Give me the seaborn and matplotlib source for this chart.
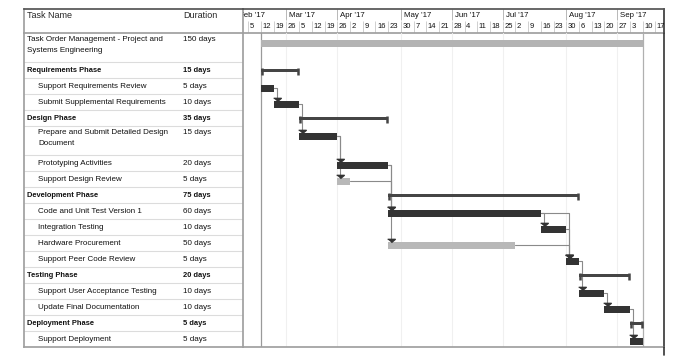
import numpy as np
import pandas as pd
import matplotlib
matplotlib.use("Agg")
import matplotlib.pyplot as plt
import matplotlib.dates as mdates
from matplotlib.lines import Line2D
import seaborn as sns

# ---------------------------------------------------------------- data
tasks = [
    "Task Order Management - Project and\nSystems Engineering",
    "Requirements Phase",
    "Support Requirements Review",
    "Submit Supplemental Requirements",
    "Design Phase",
    "Prepare and Submit Detailed Design\nDocument",
    "Prototyping Activities",
    "Support Design Review",
    "Development Phase",
    "Code and Unit Test Version 1",
    "Integration Testing",
    "Hardware Procurement",
    "Support Peer Code Review",
    "Testing Phase",
    "Support User Acceptance Testing",
    "Update Final Documentation",
    "Deployment Phase",
    "Support Deployment",
]
durations = [150, 15, 5, 10, 35, 15, 20, 5, 75, 60, 10, 50, 5, 20, 10, 10, 5, 5]   # working days
starts = [0, 0, 0, 5, 15, 15, 30, 30, 50, 50, 110, 50, 120, 125, 125, 135, 145, 145]  # working-day offset
kinds = ["project", "phase", "critical", "critical", "phase", "critical", "critical", "task",
         "phase", "critical", "critical", "task", "critical", "phase", "critical", "critical",
         "phase", "critical"]
links = [(2, 3), (3, 5), (5, 6), (5, 7), (6, 9), (6, 11), (7, 9), (9, 10), (9, 12),
         (10, 12), (11, 12), (12, 14), (14, 15), (15, 17)]
project_start = "2017-02-12"
months = pd.date_range("2017-02-01", "2017-09-01", freq="MS")
weeks = pd.date_range("2017-02-05", "2017-09-17", freq="W-SUN")

# ---------------------------------------------------------------- style
sns.set_theme(style="white")
plt.rcParams["font.family"] = ["Liberation Sans", "DejaVu Sans"]

W, H = 673, 362
fig = plt.figure(figsize=(W / 100, H / 100), dpi=100)


def px_axes(x0, y0, x1, y1):
    ax = fig.add_axes([x0 / W, 1 - y1 / H, (x1 - x0) / W, (y1 - y0) / H])
    ax.set_xticks([])
    ax.set_yticks([])
    for s in ax.spines.values():
        s.set_visible(False)
    ax.patch.set_alpha(0)
    return ax


ax_th = px_axes(24, 9, 243, 33)    # table header
ax_t = px_axes(24, 33, 243, 347)   # table body
ax_gh = px_axes(243, 9, 664, 33)   # timescale
ax_g = px_axes(243, 33, 664, 347)  # gantt body

p = 1 / 16  # one pixel in row units
heights = np.array([29 / 16 if "\n" in t else 1.0 for t in tasks])
tops = np.concatenate([[0], np.cumsum(heights)[:-1]])
total = heights.sum()

day_per_px = 7 / 12.72
t0 = mdates.date2num(pd.Timestamp(project_start))
x_start = t0 + np.array(starts) * 7 / 5
x_width = np.array(durations) * 7 / 5
xlim = (t0 - 18 * day_per_px, t0 + 403 * day_per_px)

GRID = "#dcdcdc"
LINE = "#a0a0a0"

# ---------------------------------------------------------------- table
ax_th.set_xlim(0, 219)
ax_th.set_ylim(24, 0)
ax_th.text(3, 6.5, "Task Name", fontsize=6.5, va="center")
ax_th.text(159, 6.5, "Duration", fontsize=6.5, va="center")

ax_t.set_xlim(0, 219)
ax_t.set_ylim(total, 0)
for i, name in enumerate(tasks):
    bold = kinds[i] == "phase"
    x = 3 if kinds[i] in ("phase", "project") else 14
    lines = name.split("\n")
    if len(lines) == 1:
        ys = [tops[i] + 8.5 * p]
    else:
        ys = [tops[i] + 6.5 * p, tops[i] + 17.5 * p]
    fs = 5.4 if bold else 5.75
    for ln, yy in zip(lines, ys):
        ax_t.text(x, yy, ln, fontsize=fs, fontweight="bold" if bold else "normal",
                  va="center", color="#111")
    ax_t.text(159, ys[0], f"{durations[i]} days", fontsize=fs,
              fontweight="bold" if bold else "normal", va="center", color="#111")
    ax_t.axhline(tops[i] + heights[i], color=GRID, lw=0.8)

# ---------------------------------------------------------------- timescale
ax_gh.set_xlim(*xlim)
ax_gh.set_ylim(24, 0)
for m in months:
    b = m - pd.Timedelta(days=(m.weekday() + 1) % 7)
    bx = mdates.date2num(b)
    ax_gh.vlines(bx, 0, 11, color="#b8b8b8", lw=0.7)
    ax_gh.text(bx + 3 * day_per_px, 6, m.strftime("%b '%y"), fontsize=5.7,
               va="center", ha="left", clip_on=True, color="#111")
for w in weeks:
    wx = mdates.date2num(w)
    ax_gh.vlines(wx, 12, 24, color="#c8c8c8", lw=0.6)
    ax_gh.text(wx + 1.5 * day_per_px, 17.5, str(w.day), fontsize=5.5,
               va="center", ha="left", clip_on=True, color="#111")

# ---------------------------------------------------------------- gantt
ax_g.set_xlim(*xlim)
ax_g.set_ylim(total, 0)
for m in months:
    b = m - pd.Timedelta(days=(m.weekday() + 1) % 7)
    ax_g.axvline(mdates.date2num(b), color="#f0f0f0", lw=0.8, zorder=0)
ax_g.axvline(t0, color="#9a9a9a", lw=0.9, zorder=1)
ax_g.axvline(t0 + durations[0] * 7 / 5, color="#b0b0b0", lw=0.9, zorder=1)

SUMMARY = "#454545"
colors = {"project": "#b3b3b3", "critical": "#333333", "task": "#b8b8b8"}
for i in range(len(tasks)):
    y = tops[i]
    if kinds[i] == "phase":
        ax_g.barh(y + 8 * p, x_width[i], left=x_start[i], height=3 * p,
                  color=SUMMARY, lw=0, zorder=3)
        ax_g.vlines([x_start[i] + 0.5, x_start[i] + x_width[i] - 0.5],
                    y + 6 * p, y + 12.5 * p, colors=SUMMARY, lw=1.8, zorder=3)
    else:
        ax_g.barh(y + 10 * p, x_width[i], left=x_start[i], height=7 * p,
                  color=colors[kinds[i]], lw=0, zorder=3)

off = 3 * day_per_px
for a, b in links:
    xa = x_start[a] + x_width[a]
    ya = tops[a] + 10 * p
    xv = max(xa, x_start[b]) + off
    yb = tops[b] + 6.5 * p
    ax_g.plot([xa, xv, xv], [ya, ya, yb - 1.5 * p], color="#8a8a8a", lw=0.8, zorder=2)
    ax_g.plot([xv], [yb - 2 * p], marker=[(-4, 1.2), (4, 1.2), (0, -2.2)], ms=5.5,
              color="#333333", lw=0, zorder=4)

# ---------------------------------------------------------------- borders
for ax in (ax_th, ax_gh):
    ax.spines["top"].set_visible(True)
    ax.spines["top"].set_color("#555555")
    ax.spines["bottom"].set_visible(True)
    ax.spines["bottom"].set_color(LINE)
for ax in (ax_th, ax_t):
    ax.spines["left"].set_visible(True)
    ax.spines["left"].set_color(LINE)
    ax.spines["right"].set_visible(True)
    ax.spines["right"].set_color(LINE)
for ax in (ax_t, ax_g):
    ax.spines["bottom"].set_visible(True)
    ax.spines["bottom"].set_color(LINE)
for ax in (ax_g, ax_gh):
    ax.spines["right"].set_visible(True)
    ax.spines["right"].set_color("#333333")
    ax.spines["right"].set_linewidth(1.2)
fig.add_artist(Line2D([664 / W, 664 / W], [1 - 347 / H, 1 - 355 / H],
                      color="#333333", lw=1.2))

fig.savefig("out.png", dpi=100)
